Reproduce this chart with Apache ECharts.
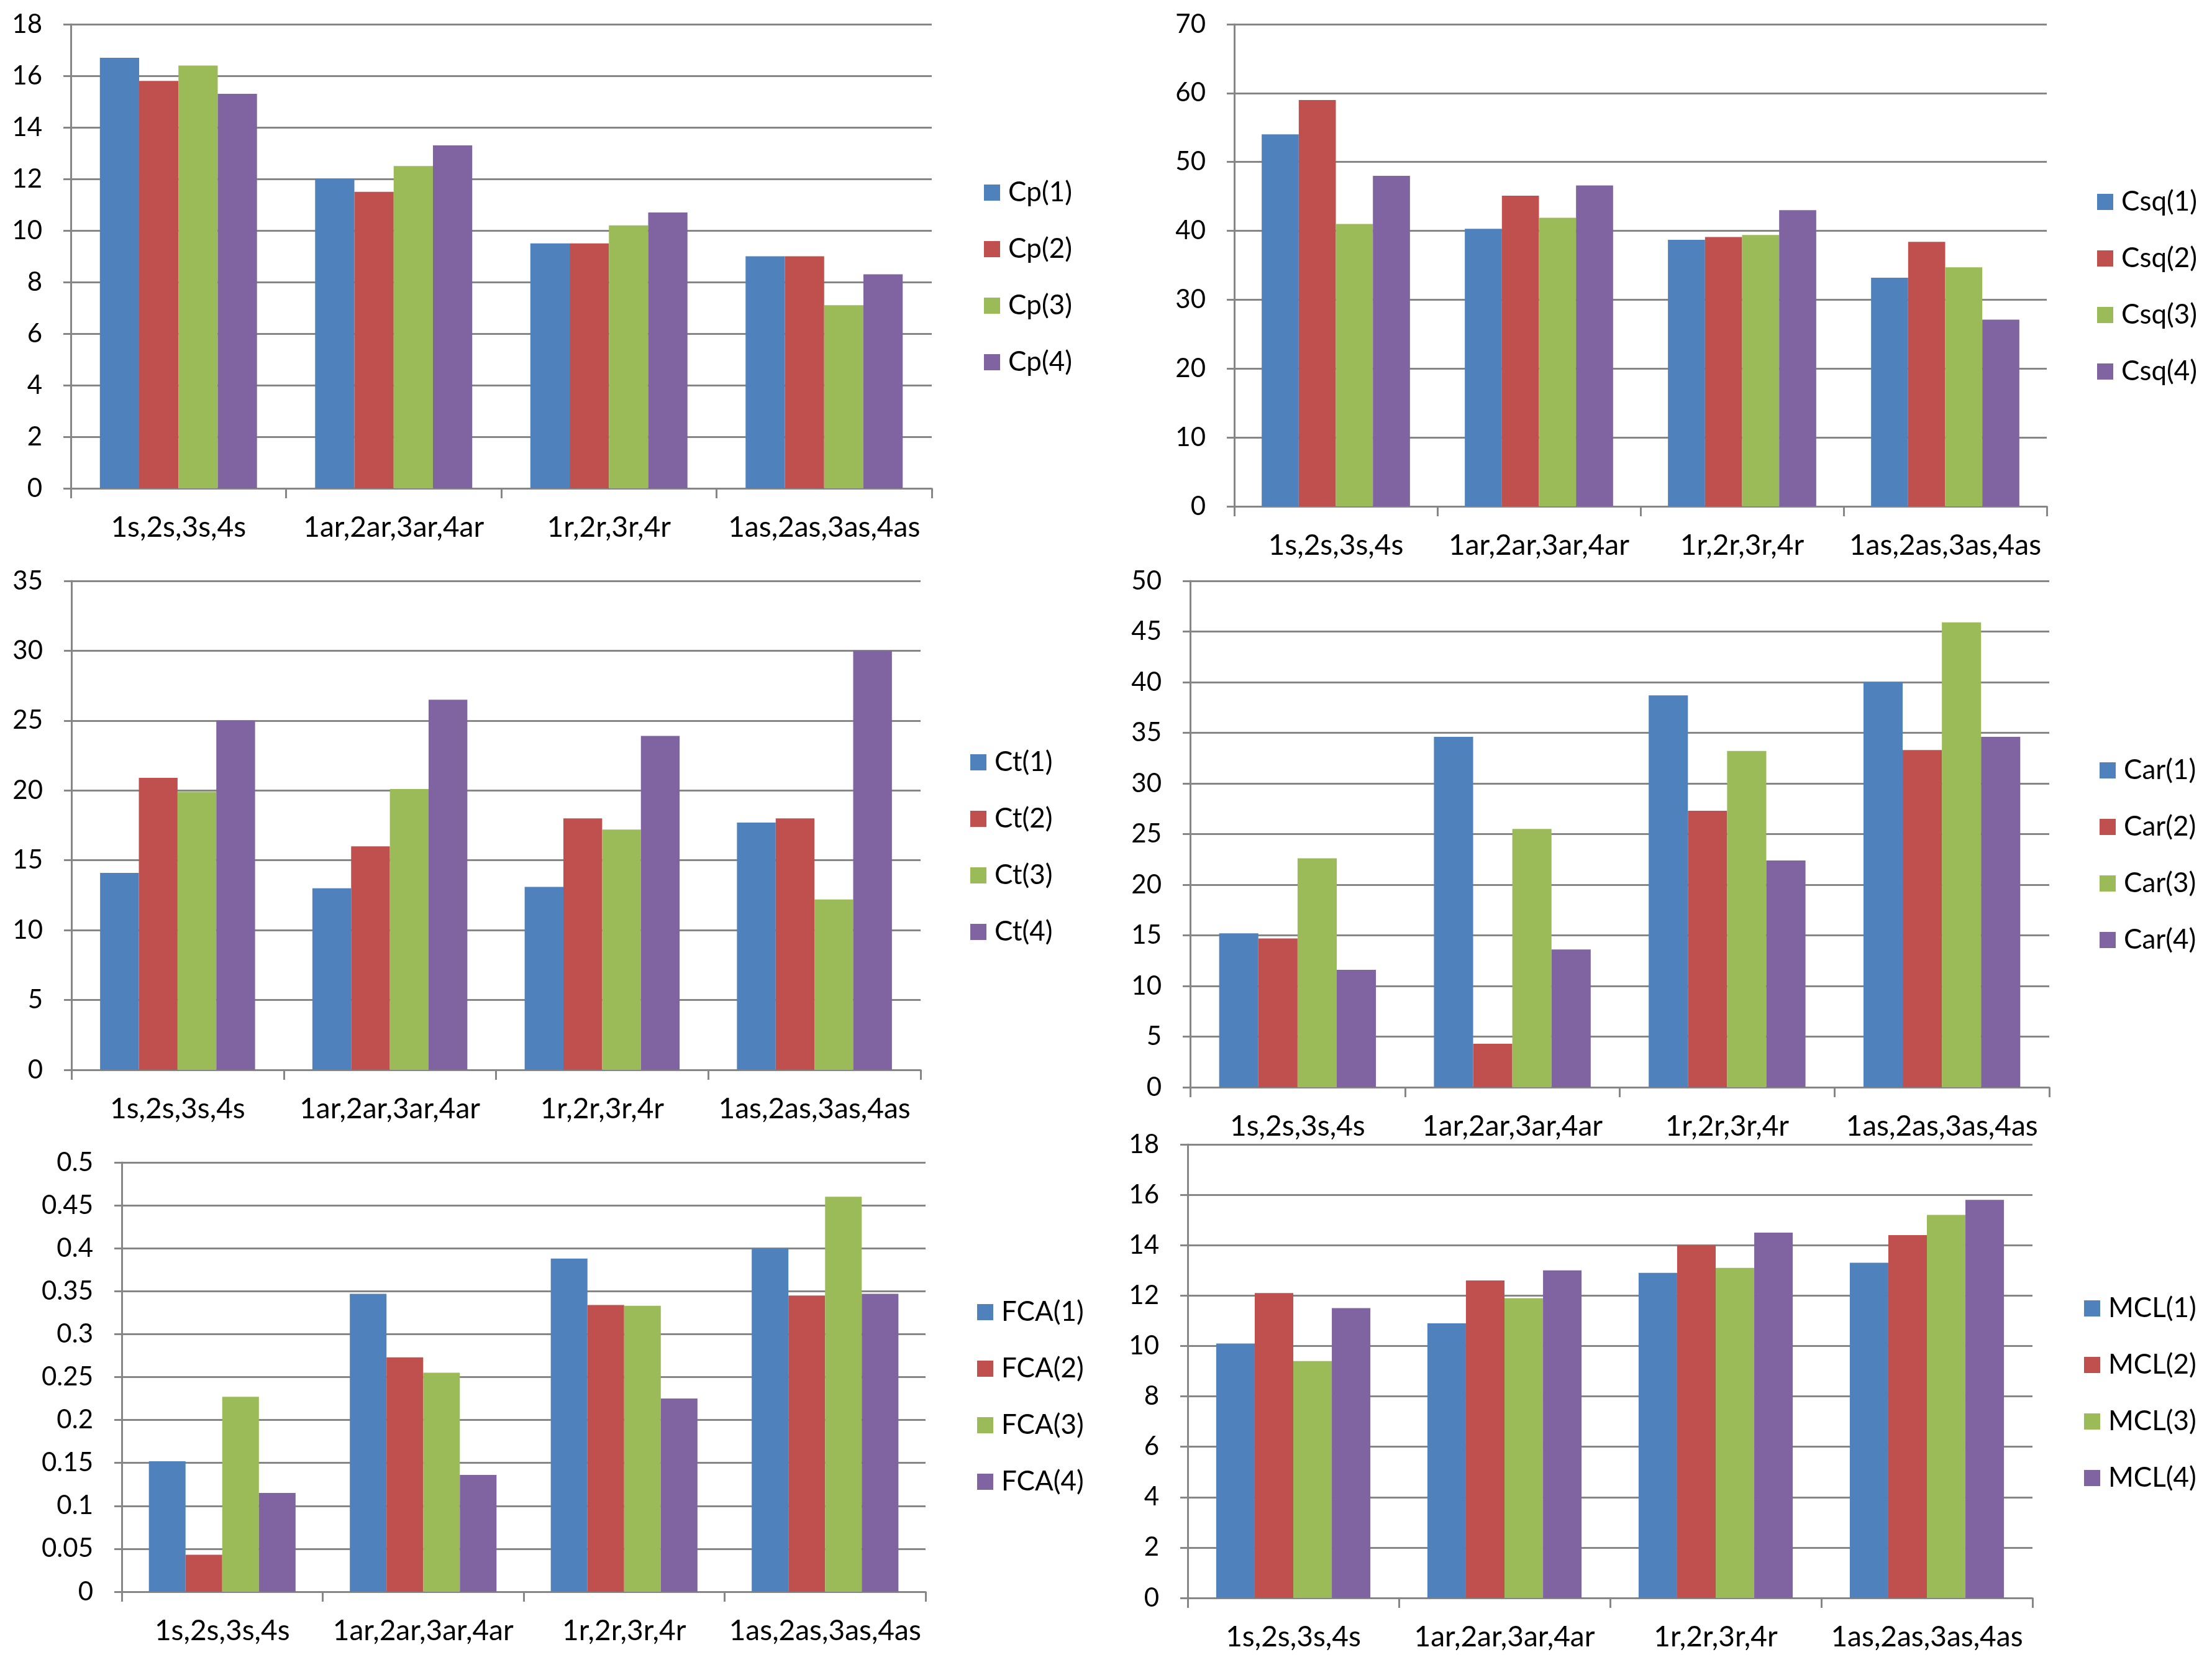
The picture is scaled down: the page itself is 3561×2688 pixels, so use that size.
<!DOCTYPE html>
<html>
<head>
<meta charset="utf-8">
<script src="https://cdn.jsdelivr.net/npm/echarts@6/dist/echarts.min.js"></script>
<style>
    body { margin: 0; background: #fff; }
    #box { width: 3561px; height: 2688px; }
</style>
</head>
<body>
<div id="box"></div>
<script>
// categories shared by every panel
var categories = ['1s,2s,3s,4s', '1ar,2ar,3ar,4ar', '1r,2r,3r,4r', '1as,2as,3as,4as'];

// Cp
var cpNames = ['Cp(1)', 'Cp(2)', 'Cp(3)', 'Cp(4)'];
var cpData = [
    [16.7, 12.0, 9.5, 9.0],
    [15.8, 11.5, 9.5, 9.0],
    [16.4, 12.5, 10.2, 7.1],
    [15.3, 13.3, 10.7, 8.3]
];

// Csq
var csqNames = ['Csq(1)', 'Csq(2)', 'Csq(3)', 'Csq(4)'];
var csqData = [
    [54.0, 40.3, 38.7, 33.2],
    [59.0, 45.1, 39.1, 38.4],
    [41.0, 41.9, 39.4, 34.7],
    [48.0, 46.6, 43.0, 27.1]
];

// Ct
var ctNames = ['Ct(1)', 'Ct(2)', 'Ct(3)', 'Ct(4)'];
var ctData = [
    [14.1, 13.0, 13.1, 17.7],
    [20.9, 16.0, 18.0, 18.0],
    [19.9, 20.1, 17.2, 12.2],
    [25.0, 26.5, 23.9, 30.0]
];

// Car
var carNames = ['Car(1)', 'Car(2)', 'Car(3)', 'Car(4)'];
var carData = [
    [15.2, 34.6, 38.7, 40.0],
    [14.7, 4.3, 27.3, 33.3],
    [22.6, 25.5, 33.2, 45.9],
    [11.6, 13.6, 22.4, 34.6]
];

// FCA
var fcaNames = ['FCA(1)', 'FCA(2)', 'FCA(3)', 'FCA(4)'];
var fcaData = [
    [0.152, 0.347, 0.388, 0.400],
    [0.043, 0.273, 0.334, 0.345],
    [0.227, 0.255, 0.333, 0.460],
    [0.115, 0.136, 0.225, 0.347]
];

// MCL
var mclNames = ['MCL(1)', 'MCL(2)', 'MCL(3)', 'MCL(4)'];
var mclData = [
    [10.1, 10.9, 12.9, 13.3],
    [12.1, 12.6, 14.0, 14.4],
    [9.4, 11.9, 13.1, 15.2],
    [11.5, 13.0, 14.5, 15.8]
];

// y axis ranges: [max, interval]
var yRanges = [[18, 2], [70, 10], [35, 5], [50, 5], [0.5, 0.05], [18, 2]];

var colors = ['#4F81BD', '#C0504D', '#9BBB59', '#8064A2'];
var gray = '#868686';
var font = 'Lato';

// panel boxes: plot area and legend position
var panels = [
    {names: cpNames, data: cpData, grid: [114, 39, 1386, 747], legend: [1579, 283]},
    {names: csqNames, data: csqData, grid: [1987, 39, 1308, 776], legend: [3371, 298]},
    {names: ctNames, data: ctData, grid: [115, 935, 1367, 787], legend: [1557, 1200]},
    {names: carNames, data: carData, grid: [1916, 935, 1383, 815], legend: [3375, 1213]},
    {names: fcaNames, data: fcaData, grid: [196, 1871, 1294, 691], legend: [1568, 2085]},
    {names: mclNames, data: mclData, grid: [1912, 1842, 1360, 730], legend: [3350, 2079]}
];

var chart = echarts.init(document.getElementById('box'));

var option = {
    backgroundColor: '#fff',
    animation: false,
    color: colors,
    grid: [],
    xAxis: [],
    yAxis: [],
    legend: [],
    series: []
};

for (var i = 0; i < panels.length; i++) {
    var p = panels[i];
    option.grid.push({
        left: p.grid[0],
        top: p.grid[1],
        width: p.grid[2],
        height: p.grid[3],
        containLabel: false,
        outerBoundsMode: 'none'
    });
    option.xAxis.push({
        type: 'category',
        gridIndex: i,
        data: categories,
        axisLine: {show: true, lineStyle: {color: gray, width: 3}},
        axisTick: {show: true, length: 16, lineStyle: {color: gray, width: 3}},
        axisLabel: {color: '#000', fontSize: 46, fontFamily: font, margin: 40, interval: 0},
        splitLine: {show: false}
    });
    option.yAxis.push({
        type: 'value',
        gridIndex: i,
        min: 0,
        max: yRanges[i][0],
        interval: yRanges[i][1],
        axisLine: {show: true, lineStyle: {color: gray, width: 3}},
        axisTick: {show: true, length: 12, lineStyle: {color: gray, width: 3}},
        axisLabel: {color: '#000', fontSize: 42, fontFamily: font, margin: 46},
        splitLine: {show: true, lineStyle: {color: gray, width: 3}}
    });
    option.legend.push({
        orient: 'vertical',
        left: p.legend[0],
        top: p.legend[1],
        data: p.names,
        icon: 'rect',
        itemWidth: 26,
        itemHeight: 26,
        itemGap: 47,
        textStyle: {color: '#000', fontSize: 44, fontFamily: font, lineHeight: 42, padding: [0, 0, 0, 8]}
    });
    for (var s = 0; s < 4; s++) {
        option.series.push({
            type: 'bar',
            name: p.names[s],
            xAxisIndex: i,
            yAxisIndex: i,
            data: p.data[s],
            barGap: '0%',
            barCategoryGap: '27%',
            itemStyle: {color: colors[s]}
        });
    }
}

chart.setOption(option);
</script>
</body>
</html>
